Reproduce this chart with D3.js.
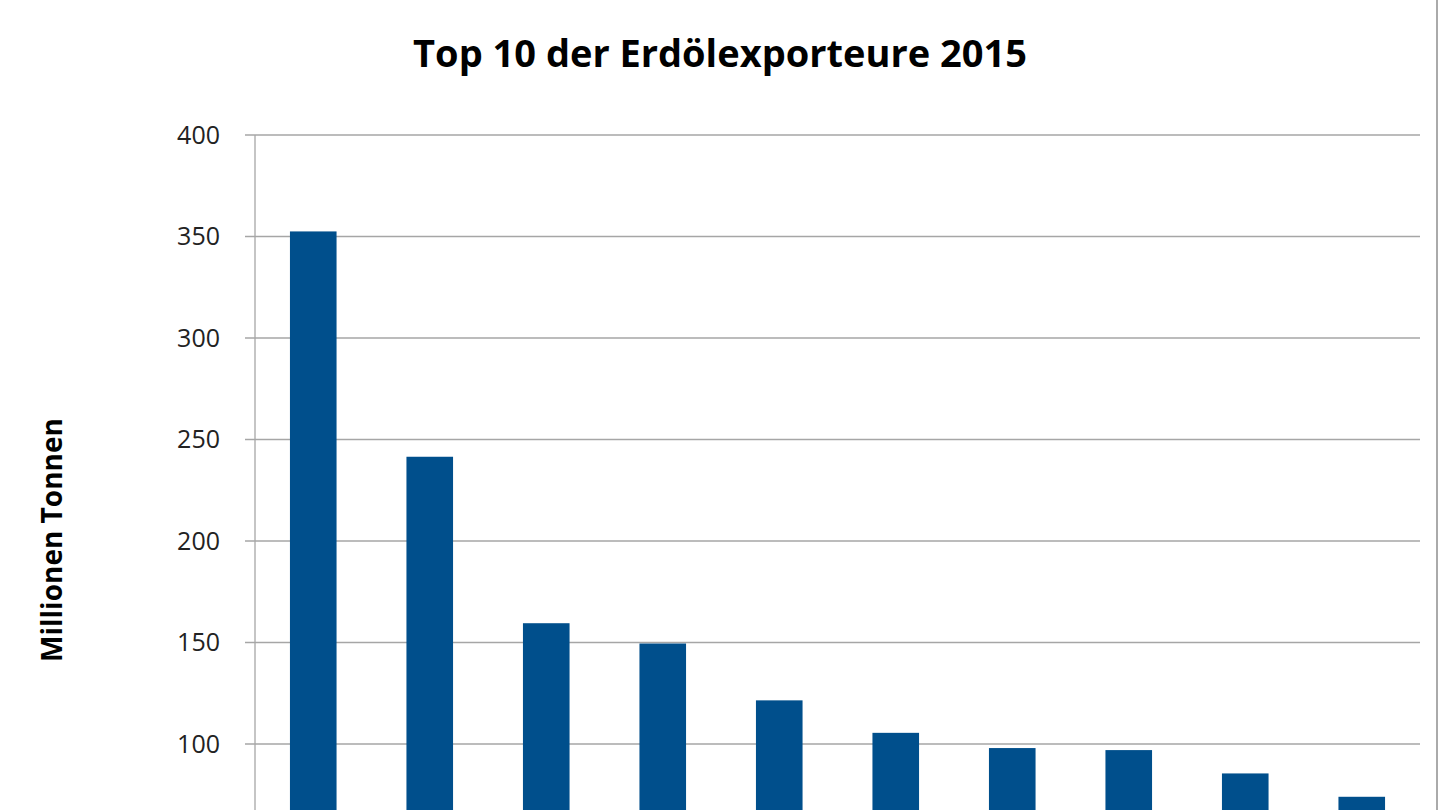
<!DOCTYPE html>
<html><head><meta charset="utf-8">
<script src="https://cdn.jsdelivr.net/npm/d3@7"></script>
<style>body{margin:0;background:#fff;overflow:hidden}text{font-family:"Open Sans",sans-serif}</style>
</head><body>
<svg id="c" width="1440" height="1100"></svg>
<script>
const categories = ['Saudi-Arabien','Russland','Irak','Kanada','VAE','Nigeria','Kuwait','Venezuela','Angola','Kasachstan'];
const values = [352.5, 241.5, 159.5, 149.5, 121.5, 105.5, 98, 97, 85.5, 74];
const yTicks = [0, 50, 100, 150, 200, 250, 300, 350, 400];

const svg = d3.select('#c');
const plotLeft = 255, plotRight = 1420, plotTop = 135, plotBottom = 947;

svg.append('line').attr('x1', 1437).attr('x2', 1437).attr('y1', 0).attr('y2', 1100)
  .attr('stroke', '#aaa').attr('stroke-width', 2);

const x = d3.scaleBand().domain(categories).range([plotLeft, plotRight]).padding(0.6).paddingOuter(0.3);
const y = d3.scaleLinear().domain([0, 400]).range([plotBottom, plotTop]);

// Grid lines
svg.append('g').selectAll('line').data(yTicks).enter().append('line')
  .attr('x1', plotLeft - 10).attr('x2', plotRight)
  .attr('y1', d => y(d)).attr('y2', d => y(d))
  .attr('stroke', '#a6a6a6').attr('stroke-width', 1.3);

svg.append('line').attr('x1', plotLeft).attr('x2', plotLeft).attr('y1', plotTop).attr('y2', plotBottom)
  .attr('stroke', '#a6a6a6').attr('stroke-width', 1.3);

svg.append('g').selectAll('text').data(yTicks).enter().append('text')
  .attr('x', 220).attr('y', d => y(d)).attr('dy', '0.35em')
  .attr('text-anchor', 'end').attr('font-size', 25).attr('fill', '#222')
  .text(d => d);

// Bars
svg.append('g').selectAll('rect').data(values).enter().append('rect')
  .attr('x', (d, i) => x(categories[i]))
  .attr('width', x.bandwidth())
  .attr('y', d => y(d))
  .attr('height', d => plotBottom - y(d))
  .attr('fill', '#004f8c');

svg.append('g').selectAll('text').data(categories).enter().append('text')
  .attr('x', d => x(d) + x.bandwidth() / 2).attr('y', plotBottom + 35)
  .attr('text-anchor', 'middle').attr('font-size', 22).text(d => d);

svg.append('text').attr('x', 720).attr('y', 67).attr('text-anchor', 'middle')
  .attr('font-size', 38).attr('font-weight', 'bold').text('Top 10 der Erdölexporteure 2015');

svg.append('text').attr('transform', 'translate(62,540) rotate(-90)')
  .attr('text-anchor', 'middle').attr('font-size', 28).attr('font-weight', 'bold')
  .text('Millionen Tonnen');
</script>
</body></html>
